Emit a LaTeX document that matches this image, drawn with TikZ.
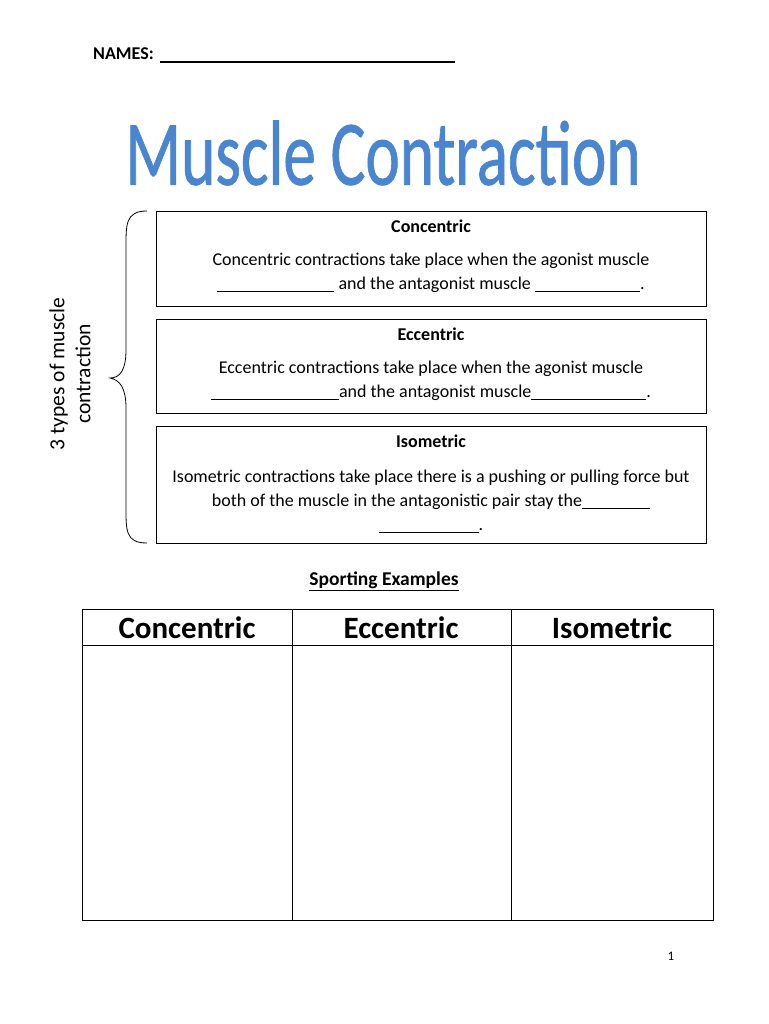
\documentclass[tikz,border=0pt]{standalone}
\usepackage{fontspec}
\setmainfont{Carlito}
\newcommand{\blank}[1]{\rule[-2.5pt]{#1pt}{0.8pt}}
\begin{document}
\begin{tikzpicture}[x=1pt,y=-1pt,
  txt/.style={font=\fontsize{18}{22}\selectfont,align=center},
  hd/.style={font=\fontsize{18}{22}\selectfont\bfseries},
  box/.style={draw,line width=0.8pt}]
\useasboundingbox (0,0) rectangle (768,1024);
\node[font=\fontsize{18}{22}\selectfont\bfseries,anchor=base west,inner sep=0pt] (names) at (93,60) {NAMES:};
\coordinate (nl) at (160,62); \coordinate (nr) at (455,62);
\draw[line width=1.2pt] (nl) -- (nr);
\node (title) at (383,153) {\special{pdf:literal direct 2 Tr 0.1 w 0.1 0.2 0.5 RG}\resizebox{515pt}{64pt}{\color[HTML]{4A86D0}Muscle Contraction}\special{pdf:literal direct 0 Tr}};
% boxes
\draw[box] (156,211) rectangle (706,306);
\draw[box] (156,319) rectangle (706,413);
\draw[box] (156,426) rectangle (706,543);
\node[hd] (h1) at (431,226) {Concentric};
\node[txt] (t1) at (431,273) {Concentric contractions take place when the agonist muscle\\[2pt]\blank{117} and the antagonist muscle \blank{105}.};
\node[hd] (h2) at (431,334) {Eccentric};
\node[txt] (t2) at (431,381) {Eccentric contractions take place when the agonist muscle\\[2pt]\blank{128}and the antagonist muscle\blank{115}.};
\node[hd] (h3) at (431,441) {Isometric};
\node[txt] (t3) at (431,501) {Isometric contractions take place there is a pushing or pulling force but\\[2pt]both of the muscle in the antagonistic pair stay the\blank{68}\\[2pt]\blank{100}.};
% brace
\coordinate (bt) at (147,211); \coordinate (bb) at (147,543); \coordinate (bm) at (110,378);
\draw[line width=0.8pt] (bt) .. controls (125,211) and (126,225) .. (126,250) -- (126,350) .. controls (126,370) and (120,378) .. (bm) .. controls (120,380) and (126,388) .. (126,408) -- (126,505) .. controls (126,530) and (125,543) .. (bb);
\node[txt,rotate=90,font=\fontsize{21.5}{26}\selectfont] (lab) at (70,374) {3 types of muscle\\contraction};
\node[font=\fontsize{19.5}{23}\selectfont\bfseries] (se) at (384,581) {\underline{Sporting Examples}};
% table
\draw[box] (82,609) rectangle (713,920);
\draw[box] (82,645) -- (713,645);
\draw[box] (292,609) -- (292,920);
\draw[box] (511,609) -- (511,920);
\node[font=\fontsize{31}{35}\selectfont\bfseries] (c1) at (187,628) {Concentric};
\node[font=\fontsize{31}{35}\selectfont\bfseries] (c2) at (401,628) {Eccentric};
\node[font=\fontsize{31}{35}\selectfont\bfseries] (c3) at (612,628) {Isometric};
\node[font=\fontsize{13}{15}\selectfont] (pg) at (671,956) {1};
\end{tikzpicture}
\end{document}
